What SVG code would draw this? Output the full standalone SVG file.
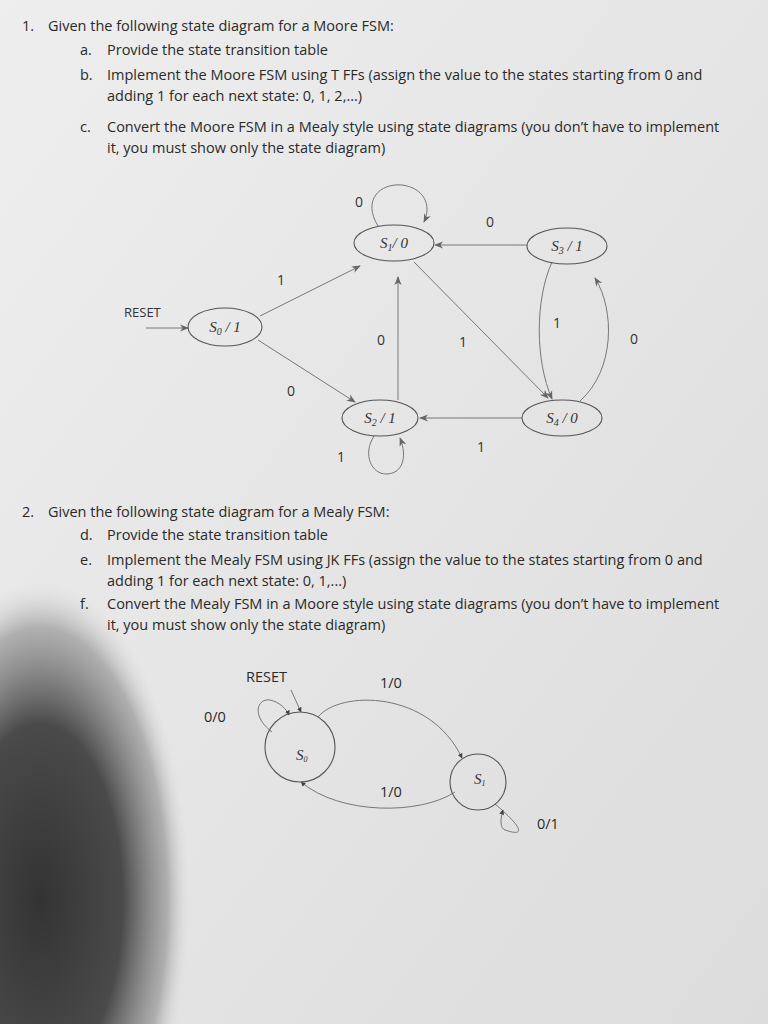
<svg xmlns="http://www.w3.org/2000/svg" width="768" height="1024" viewBox="0 0 768 1024">
<defs>
<style>
.t{font-family:"Open Sans","Liberation Sans",sans-serif;font-size:14.5px;fill:#2a2a2a}
.l{font-family:"Open Sans","Liberation Sans",sans-serif;font-size:14px;fill:#333}
.s{font-family:"Liberation Serif",serif;font-size:15px;fill:#333;font-style:italic}
.n{fill:none;stroke:#555;stroke-width:1.1}
.e{fill:none;stroke:#777;stroke-width:1}
</style>
<marker id="a" viewBox="0 0 10 10" refX="9" refY="5" markerWidth="9" markerHeight="9" orient="auto"><path d="M0,1 L10,5 L0,9 L3,5 z" fill="#666"/></marker>
<marker id="b" viewBox="0 0 10 10" refX="9" refY="5" markerWidth="5" markerHeight="5" orient="auto"><path d="M0,0 L10,5 L0,10 z" fill="#444"/></marker>
<radialGradient id="sh" gradientUnits="userSpaceOnUse" cx="40" cy="900" r="200" gradientTransform="translate(40 900) scale(0.75 1.6) translate(-40 -900)"><stop offset="0" stop-color="#333"/><stop offset="0.55" stop-color="#4a4a4a"/><stop offset="0.85" stop-color="#8a8a8a" stop-opacity="0.6"/><stop offset="1" stop-color="#d8d8d8" stop-opacity="0"/></radialGradient>
<linearGradient id="bg" x1="0" y1="0" x2="1" y2="1"><stop offset="0" stop-color="#eeeeee"/><stop offset="1" stop-color="#dcdcdc"/></linearGradient>
</defs>
<rect width="768" height="1024" fill="url(#bg)"/>
<rect x="0" y="580" width="260" height="444" fill="url(#sh)"/>
<g id="text1">
<text class="t" x="22" y="31">1.</text><text class="t" x="48" y="31">Given the following state diagram for a Moore FSM:</text>
<text class="t" x="80" y="55">a.</text><text class="t" x="107" y="55">Provide the state transition table</text>
<text class="t" x="80" y="80">b.</text><text class="t" x="107" y="80">Implement the Moore FSM using T FFs (assign the value to the states starting from 0 and</text>
<text class="t" x="107" y="101">adding 1 for each next state: 0, 1, 2,...)</text>
<text class="t" x="80" y="132">c.</text><text class="t" x="107" y="132">Convert the Moore FSM in a Mealy style using state diagrams (you don’t have to implement</text>
<text class="t" x="107" y="153">it, you must show only the state diagram)</text>
</g>
<g id="connectors1">
<path class="e" d="M378,226 C362,200 380,183 402,185 C424,188 432,205 424,222" marker-end="url(#a)"/>
<line class="e" x1="527" y1="245" x2="435" y2="245" marker-end="url(#a)"/>
<line class="e" x1="260" y1="316" x2="360" y2="266" marker-end="url(#a)"/>
<line class="e" x1="258" y1="340" x2="355" y2="402" marker-end="url(#a)"/>
<line class="e" x1="398" y1="400" x2="398" y2="277" marker-end="url(#a)"/>
<line class="e" x1="414" y1="262" x2="548" y2="398" marker-end="url(#a)"/>
<path class="e" d="M552,262 C535,300 535,360 552,399" marker-end="url(#a)"/>
<path class="e" d="M580,401 C615,370 615,310 595,278" marker-end="url(#a)"/>
<line class="e" x1="522" y1="418" x2="420" y2="418" marker-end="url(#a)"/>
<path class="e" d="M374,436 C362,455 372,474 386,474 C402,474 408,458 400,438" marker-end="url(#a)"/>
<line class="e" x1="146" y1="328" x2="188" y2="328" marker-end="url(#a)"/>
</g>
<g id="labels1">
<text class="l" x="355" y="207">0</text><text class="l" x="486" y="227">0</text>
<text class="l" x="277" y="285">1</text><text class="l" x="287" y="396">0</text>
<text class="l" x="377" y="345">0</text><text class="l" x="459" y="347">1</text>
<text class="l" x="553" y="328">1</text><text class="l" x="630" y="344">0</text>
<text class="l" x="477" y="452">1</text><text class="l" x="337" y="462">1</text>
<text class="l" x="124" y="317" style="font-size:13px">RESET</text>
</g>
<g id="S0"><ellipse class="n" cx="225" cy="327" rx="37" ry="19"/><text class="s" x="225" y="332" text-anchor="middle">S<tspan font-size="10" dy="3">0</tspan><tspan dy="-3"> / 1</tspan></text></g>
<g id="S1"><ellipse class="n" cx="394" cy="243" rx="40" ry="18"/><text class="s" x="394" y="248" text-anchor="middle">S<tspan font-size="10" dy="3">1</tspan><tspan dy="-3">/ 0</tspan></text></g>
<g id="S3"><ellipse class="n" cx="567" cy="246" rx="40" ry="18"/><text class="s" x="567" y="251" text-anchor="middle">S<tspan font-size="10" dy="3">3</tspan><tspan dy="-3"> / 1</tspan></text></g>
<g id="S2"><ellipse class="n" cx="380" cy="418" rx="38" ry="18"/><text class="s" x="380" y="423" text-anchor="middle">S<tspan font-size="10" dy="3">2</tspan><tspan dy="-3"> / 1</tspan></text></g>
<g id="S4"><ellipse class="n" cx="562" cy="418" rx="40" ry="18"/><text class="s" x="562" y="423" text-anchor="middle">S<tspan font-size="10" dy="3">4</tspan><tspan dy="-3"> / 0</tspan></text></g>
<g id="text2">
<text class="t" x="22" y="517">2.</text><text class="t" x="48" y="517">Given the following state diagram for a Mealy FSM:</text>
<text class="t" x="80" y="540">d.</text><text class="t" x="107" y="540">Provide the state transition table</text>
<text class="t" x="80" y="565">e.</text><text class="t" x="107" y="565">Implement the Mealy FSM using JK FFs (assign the value to the states starting from 0 and</text>
<text class="t" x="107" y="586">adding 1 for each next state: 0, 1,...)</text>
<text class="t" x="80" y="609">f.</text><text class="t" x="107" y="609">Convert the Mealy FSM in a Moore style using state diagrams (you don’t have to implement</text>
<text class="t" x="107" y="630">it, you must show only the state diagram)</text>
</g>
<g id="connectors2">
<line class="e" x1="291" y1="690" x2="301" y2="712" marker-end="url(#b)"/>
<path class="e" d="M272,732 C250,715 258,698 270,700 C280,702 287,710 289,715" marker-end="url(#b)"/>
<path class="e" d="M318,717 C340,690 430,690 462,758" marker-end="url(#b)"/>
<path class="e" d="M455,792 C420,815 340,815 301,782" marker-end="url(#b)"/>
<path class="e" d="M495,804 C520,825 528,838 505,830 C500,828 500,820 503,810" marker-end="url(#b)"/>
</g>
<g id="labels2">
<text class="t" x="246" y="682">RESET</text><text class="t" x="380" y="688">1/0</text>
<text class="t" x="204" y="722">0/0</text><text class="t" x="380" y="797">1/0</text>
<text class="t" x="537" y="829">0/1</text>
</g>
<g id="M0"><circle class="n" cx="300" cy="747" r="35"/><text class="s" x="296" y="760" font-size="12">S<tspan font-size="8" dy="2">0</tspan></text></g>
<g id="M1"><circle class="n" cx="478" cy="782" r="28"/><text class="s" x="474" y="784" font-size="12">S<tspan font-size="8" dy="2">1</tspan></text></g>
</svg>
